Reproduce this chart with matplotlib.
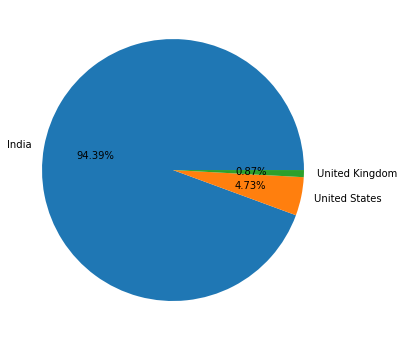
import matplotlib
matplotlib.use("Agg")
import matplotlib.pyplot as plt

# Share of entries by country
countries = ["India", "United States", "United Kingdom"]
shares = [94.394, 4.734, 0.872]

fig = plt.figure(figsize=(404 / 72, 340 / 72), dpi=72)
fig.patch.set_facecolor("white")
ax = fig.add_axes([0.0229, 0.0184, 0.8106, 0.963])

ax.pie(shares, labels=countries, autopct="%1.2f%%")

fig.savefig("out.png", dpi=72, facecolor="white")
